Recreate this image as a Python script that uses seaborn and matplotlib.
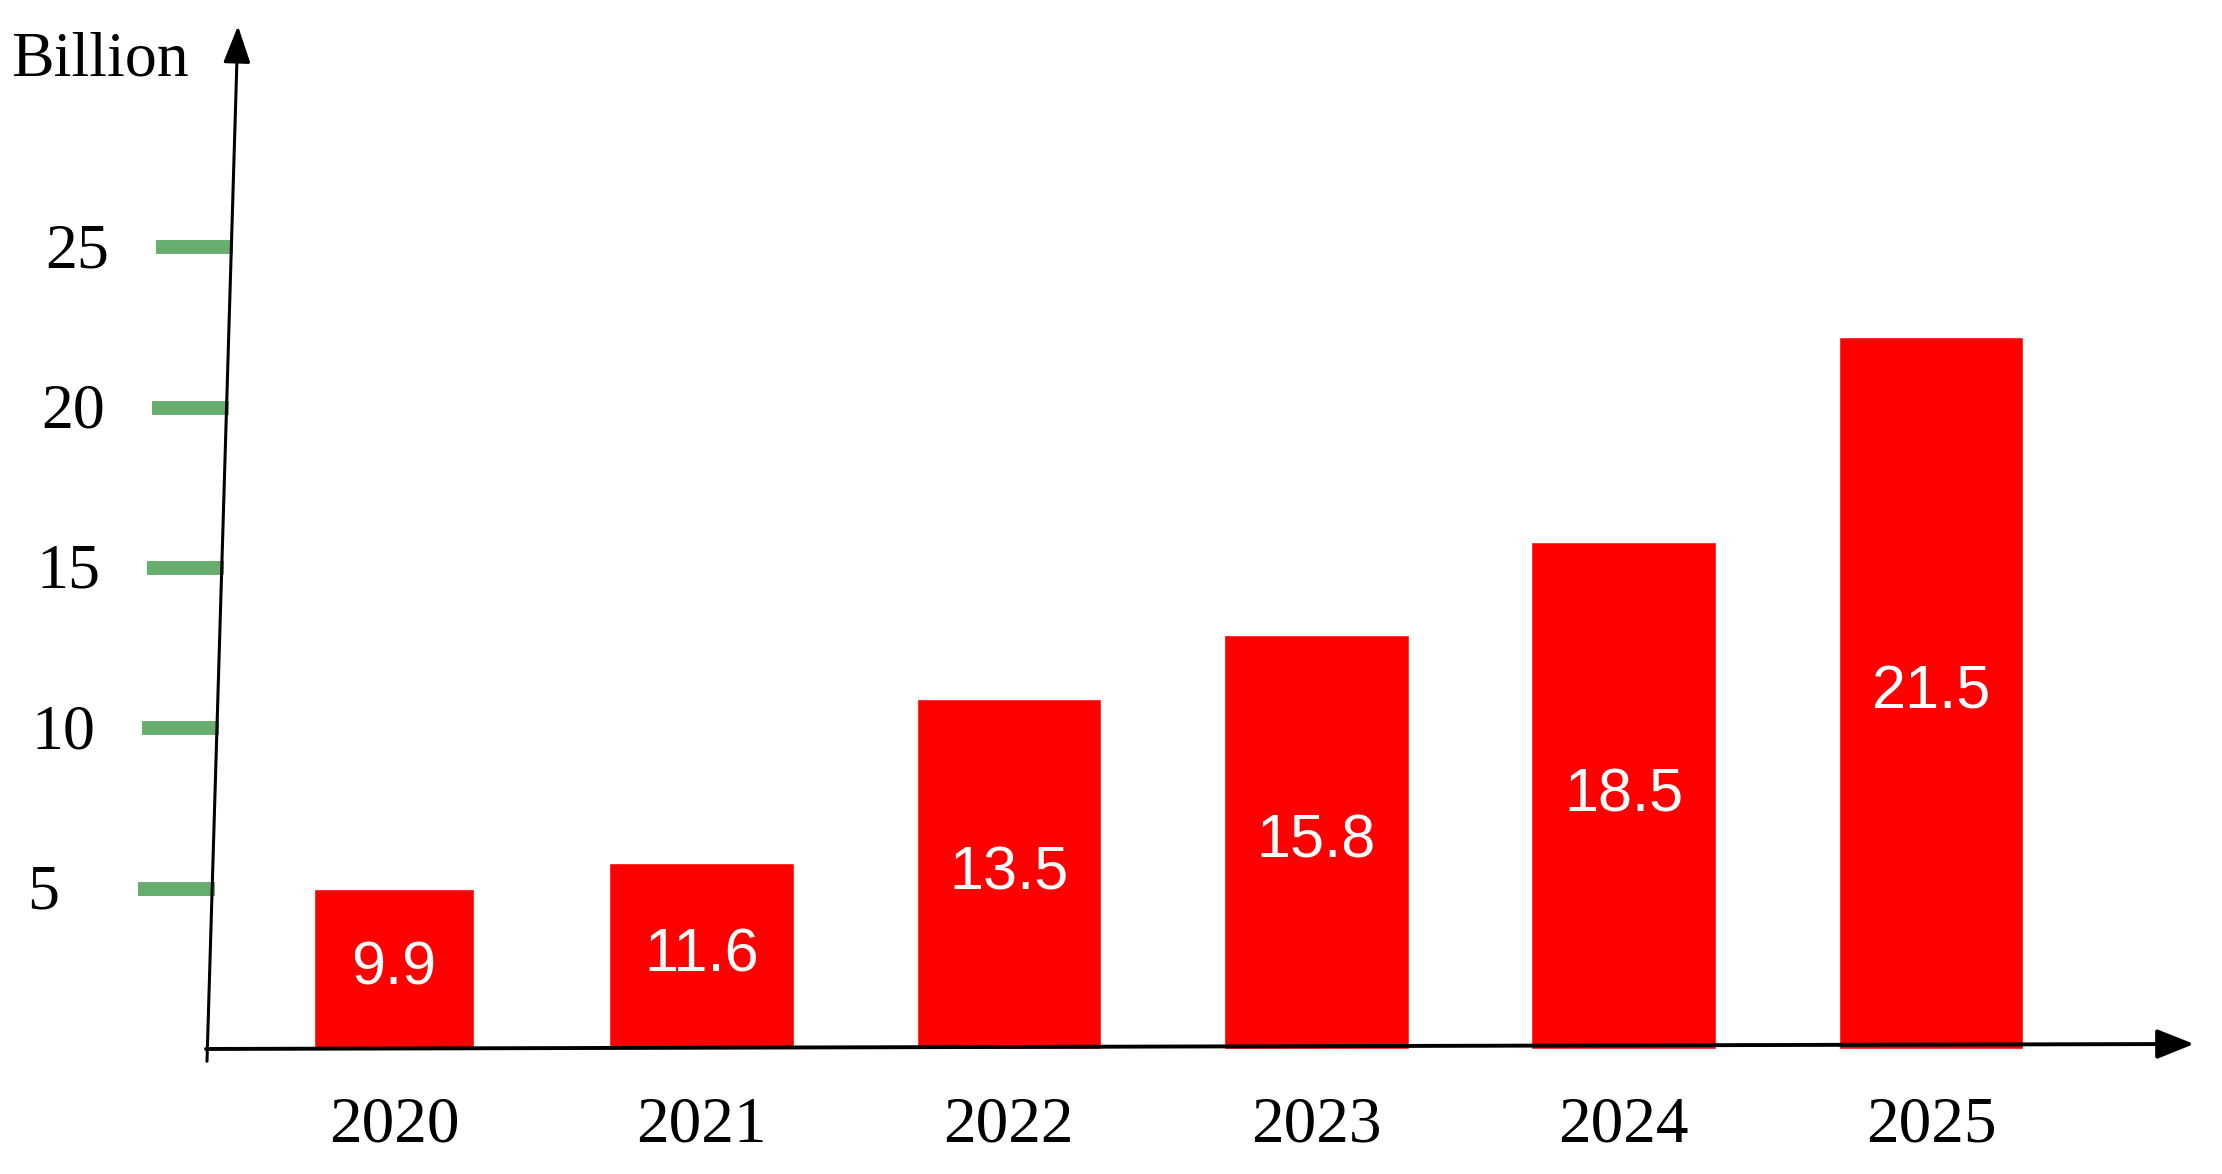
import matplotlib
matplotlib.use('Agg')
import matplotlib.pyplot as plt
import matplotlib.transforms as mtransforms
import seaborn as sns
import pandas as pd

# ---- data ----
years = ['2020', '2021', '2022', '2023', '2024', '2025']
bar_heights = [5.0, 5.8, 10.9, 12.9, 15.8, 22.2]      # drawn bar heights on the axis scale
value_labels = ['9.9', '11.6', '13.5', '15.8', '18.5', '21.5']  # printed values
y_ticks = [5, 10, 15, 20, 25]
y_axis_label = 'Billion'

sns.set_theme(style='white')
plt.rcParams['font.family'] = ['Liberation Serif', 'DejaVu Serif']

YTOP = 31.9
fig = plt.figure(figsize=(22.22, 11.74), dpi=100)
ax = fig.add_axes([0.0936, 0.1065, 0.8938, 0.8714])

df = pd.DataFrame({'year': years, 'height': bar_heights})
sns.barplot(data=df, x='year', y='height', color='#ff0000', saturation=1,
            width=0.6, ax=ax)
# first bar is drawn a little narrower in the reference
p0 = ax.patches[0]
p0.set_x(-0.26)
p0.set_width(0.52)

ax.set_xlim(-0.605, 5.855)
ax.set_ylim(0, YTOP)
for s in ax.spines.values():
    s.set_visible(False)
ax.set_yticks([])
ax.set_xlabel('')
ax.set_ylabel('')
ax.tick_params(axis='x', length=0, pad=34, labelsize=47, colors='black')

ax.bar_label(ax.containers[0], labels=value_labels, label_type='center',
             color='white', fontsize=44, family=['Liberation Sans', 'DejaVu Sans'])

# slanted hand-drawn style axes with arrows
slant = 0.0151
ax.annotate('', xy=(slant, 1.0), xytext=(-0.0005, -0.012), xycoords='axes fraction',
            textcoords='axes fraction', annotation_clip=False,
            arrowprops=dict(arrowstyle='-|>,head_length=0.6,head_width=0.22',
                            mutation_scale=38, lw=2.2, color='black',
                            shrinkA=0, shrinkB=0))
ax.annotate('', xy=(1.0, 0.0049), xytext=(-0.001, 0), xycoords='axes fraction',
            textcoords='axes fraction', annotation_clip=False,
            arrowprops=dict(arrowstyle='-|>,head_length=0.6,head_width=0.24',
                            mutation_scale=38, lw=2.8, color='black',
                            shrinkA=0, shrinkB=0))

trans = mtransforms.blended_transform_factory(ax.transAxes, ax.transData)
for t in y_ticks:
    xa = slant * t / YTOP
    ax.plot([xa - 0.0378, xa + 0.001], [t, t], transform=trans, color='#66ad6e',
            lw=10, solid_capstyle='butt', clip_on=False)
    ax.text(xa - 0.0936, t - 0.15, str(t), transform=trans, ha='left', va='center',
            fontsize=46, color='black', clip_on=False)

fig.text(11 / 2222, 1 - 60 / 1174, y_axis_label, fontsize=46, ha='left', va='center',
         color='black')

fig.savefig('out.png', dpi=100, facecolor='white')
